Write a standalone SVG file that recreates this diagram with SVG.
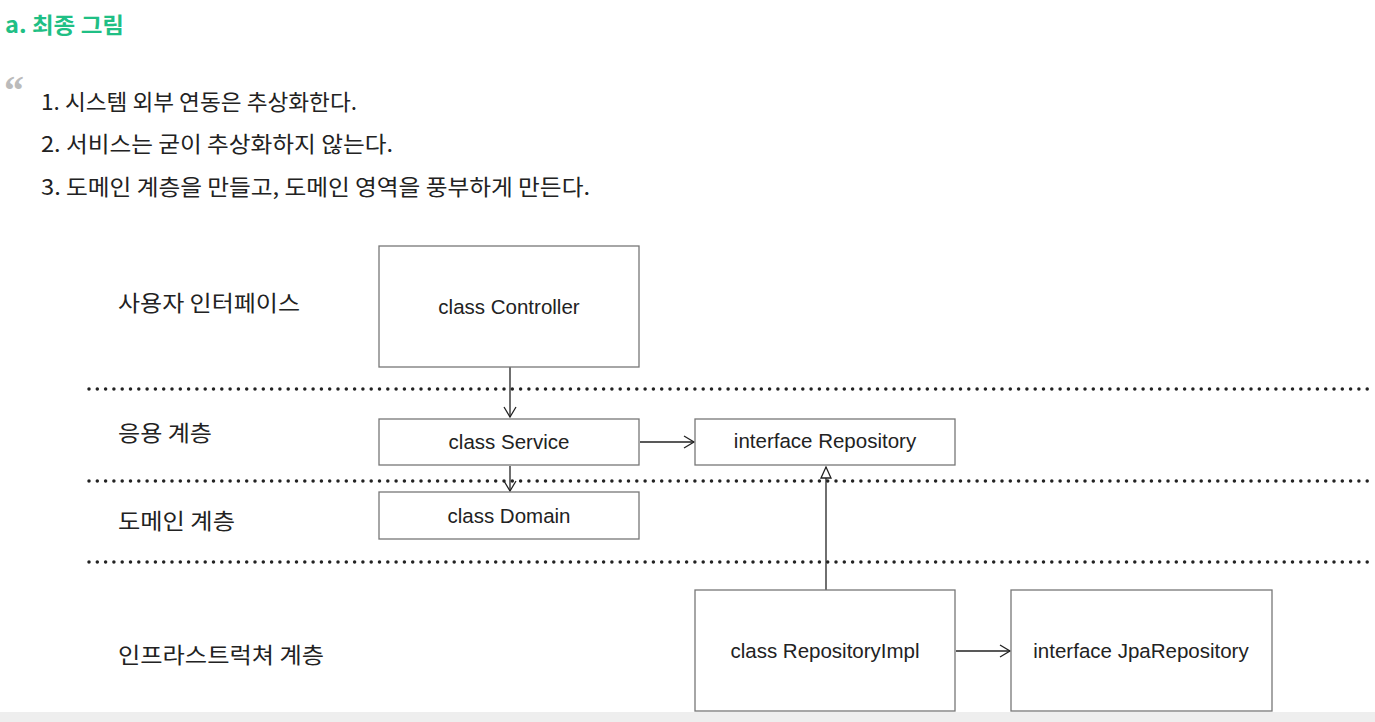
<svg xmlns="http://www.w3.org/2000/svg" width="1375" height="722" viewBox="0 0 1375 722">
<style>
.t{font-family:"Noto Sans CJK KR","Noto Sans",sans-serif;fill:#222;}
.b{fill:#fff;stroke:#777;stroke-width:1.3;}
.bt{font-family:"Liberation Sans",Arial,sans-serif;font-size:20.5px;fill:#222;text-anchor:middle;}
.lay{font-family:"Noto Sans CJK KR",sans-serif;font-size:22px;fill:#222;}
.dot{stroke:#222;stroke-width:3.5;stroke-linecap:round;stroke-dasharray:0 8.3;fill:none;}
.c{stroke:#222;stroke-width:1.3;fill:none;}
</style>
<defs>
<marker id="open" markerWidth="14" markerHeight="14" refX="11" refY="7" orient="auto" markerUnits="userSpaceOnUse"><path d="M1,1 L11,7 L1,13" fill="none" stroke="#222" stroke-width="1.3"/></marker>
<marker id="tri" markerWidth="14" markerHeight="14" refX="12" refY="6" orient="auto" markerUnits="userSpaceOnUse"><path d="M1,1 L12,6 L1,11 Z" fill="#fff" stroke="#222" stroke-width="1.3"/></marker>
</defs>
<rect width="1375" height="722" fill="#fff"/>
<rect y="712" width="1375" height="10" fill="#eeeeee"/>
<text x="5" y="33" class="t" font-size="22" font-weight="bold" textLength="119" lengthAdjust="spacingAndGlyphs" style="fill:#1fbf85">a. 최종 그림</text>
<text x="4" y="104" font-family="Liberation Serif,serif" font-size="40" font-weight="bold" fill="#bbb">“</text>
<text x="41" y="110" class="t" font-size="22" textLength="316" lengthAdjust="spacingAndGlyphs">1. 시스템 외부 연동은 추상화한다.</text>
<text x="41" y="152" class="t" font-size="22" textLength="352" lengthAdjust="spacingAndGlyphs">2. 서비스는 굳이 추상화하지 않는다.</text>
<text x="41" y="195" class="t" font-size="22" textLength="549" lengthAdjust="spacingAndGlyphs">3. 도메인 계층을 만들고, 도메인 영역을 풍부하게 만든다.</text>
<text x="118" y="311" class="lay" textLength="182" lengthAdjust="spacingAndGlyphs">사용자 인터페이스</text>
<text x="118" y="441" class="lay" textLength="94" lengthAdjust="spacingAndGlyphs">응용 계층</text>
<text x="118" y="529" class="lay" textLength="117" lengthAdjust="spacingAndGlyphs">도메인 계층</text>
<text x="118" y="663" class="lay" textLength="206" lengthAdjust="spacingAndGlyphs">인프라스트럭쳐 계층</text>
<g id="dividers">
<line class="dot" x1="89" y1="389" x2="1375" y2="389"/>
<line class="dot" x1="89" y1="481" x2="1375" y2="481"/>
<line class="dot" x1="89" y1="562" x2="1375" y2="562"/>
</g>
<g id="connectors">
<line class="c" x1="510" y1="367" x2="510" y2="417" marker-end="url(#open)"/>
<line class="c" x1="510" y1="466" x2="510" y2="491" marker-end="url(#open)"/>
<line class="c" x1="640" y1="442" x2="694" y2="442" marker-end="url(#open)"/>
<line class="c" x1="826" y1="590" x2="826" y2="467" marker-end="url(#tri)"/>
<line class="c" x1="956" y1="651" x2="1010" y2="651" marker-end="url(#open)"/>
</g>
<g id="controller"><rect class="b" x="379" y="246" width="260" height="121"/><text class="bt" x="509" y="314">class Controller</text></g>
<g id="service"><rect class="b" x="379" y="419" width="260" height="46"/><text class="bt" x="509" y="449">class Service</text></g>
<g id="repository"><rect class="b" x="695" y="419" width="260" height="46"/><text class="bt" x="825" y="448">interface Repository</text></g>
<g id="domain"><rect class="b" x="379" y="492" width="260" height="47"/><text class="bt" x="509" y="523">class Domain</text></g>
<g id="repositoryImpl"><rect class="b" x="695" y="590" width="260" height="121"/><text class="bt" x="825" y="658">class RepositoryImpl</text></g>
<g id="jpaRepository"><rect class="b" x="1011" y="590" width="261" height="121"/><text class="bt" x="1141" y="658">interface JpaRepository</text></g>
</svg>
